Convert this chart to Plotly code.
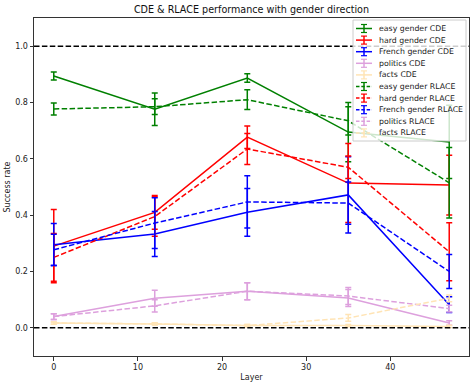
import plotly.graph_objects as go

layers = [0, 12, 23, 35, 47]

easy_cde = [0.894, 0.776, 0.887, 0.695, 0.660]
easy_cde_err = [0.014, 0.058, 0.015, 0.105, 0.130]
hard_cde = [0.290, 0.410, 0.677, 0.514, 0.507]
hard_cde_err = [0.130, 0.060, 0.040, 0.140, 0.106]
french_cde = [0.295, 0.333, 0.410, 0.472, 0.082]
french_cde_err = [0.075, 0.080, 0.085, 0.135, 0.028]
politics_cde = [0.040, 0.105, 0.130, 0.106, 0.017]
politics_cde_err = [0.010, 0.028, 0.030, 0.030, 0.008]
facts_cde = [0.017, 0.014, 0.008, 0.008, 0.005]
facts_cde_err = [0.004, 0.004, 0.004, 0.004, 0.004]

easy_rlace = [0.777, 0.785, 0.810, 0.735, 0.515]
easy_rlace_err = [0.021, 0.028, 0.035, 0.050, 0.125]
hard_rlace = [0.250, 0.395, 0.635, 0.570, 0.270]
hard_rlace_err = [0.085, 0.070, 0.055, 0.040, 0.103]
french_rlace = [0.277, 0.372, 0.447, 0.443, 0.200]
french_rlace_err = [0.055, 0.090, 0.093, 0.075, 0.060]
politics_rlace = [0.040, 0.078, 0.130, 0.113, 0.068]
politics_rlace_err = [0.010, 0.022, 0.030, 0.030, 0.012]
facts_rlace = [0.017, 0.014, 0.008, 0.035, 0.105]
facts_rlace_err = [0.004, 0.004, 0.004, 0.012, 0.012]

series = [
    ("easy gender CDE", easy_cde, easy_cde_err, "green", "solid"),
    ("hard gender CDE", hard_cde, hard_cde_err, "red", "solid"),
    ("French gender CDE", french_cde, french_cde_err, "blue", "solid"),
    ("politics CDE", politics_cde, politics_cde_err, "plum", "solid"),
    ("facts CDE", facts_cde, facts_cde_err, "moccasin", "solid"),
    ("easy gender RLACE", easy_rlace, easy_rlace_err, "green", "dash"),
    ("hard gender RLACE", hard_rlace, hard_rlace_err, "red", "dash"),
    ("French gender RLACE", french_rlace, french_rlace_err, "blue", "dash"),
    ("politics RLACE", politics_rlace, politics_rlace_err, "plum", "dash"),
    ("facts RLACE", facts_rlace, facts_rlace_err, "moccasin", "dash"),
]

W, H = 474, 386
L, R, T, B = 34, 5, 18, 30
PW, PH = W - L - R, H - T - B
MPL_DASH = "5.5px,2.4px"


def px(xp):
    return (xp - L) / PW


def py(yp):
    return (H - B - yp) / PH


fig = go.Figure()

for name, ys, errs, color, dash in series:
    fig.add_trace(go.Scatter(
        x=layers, y=ys, name=name, mode="lines", showlegend=False,
        line=dict(color=color, width=1.5, dash=MPL_DASH if dash == "dash" else "solid"),
        error_y=dict(type="data", array=errs, visible=True, color=color,
                     thickness=1.5, width=3),
    ))

fig.add_hline(y=1.0, line=dict(color="black", width=1.5, dash=MPL_DASH))
fig.add_hline(y=0.0, line=dict(color="black", width=1.5, dash=MPL_DASH))

# Matplotlib-style legend box drawn in paper coordinates
fig.add_shape(type="rect", xref="paper", yref="paper",
              x0=px(353), x1=px(466), y0=py(141), y1=py(20),
              fillcolor="rgba(255,255,255,0.8)",
              line=dict(color="#cccccc", width=1), layer="above")
for i, (name, ys, errs, color, dash) in enumerate(series):
    yc = 28.5 + 11.6 * i
    fig.add_shape(type="line", xref="paper", yref="paper",
                  x0=px(356), x1=px(372), y0=py(yc), y1=py(yc),
                  line=dict(color=color, width=1.5,
                            dash="3.5px,1.8px" if dash == "dash" else "solid"),
                  layer="above")
    fig.add_shape(type="line", xref="paper", yref="paper",
                  x0=px(364), x1=px(364), y0=py(yc - 4), y1=py(yc + 4),
                  line=dict(color=color, width=1.5), layer="above")
    for cy in (yc - 4, yc + 4):
        fig.add_shape(type="line", xref="paper", yref="paper",
                      x0=px(361), x1=px(367), y0=py(cy), y1=py(cy),
                      line=dict(color=color, width=1.2), layer="above")
    fig.add_annotation(text=name, xref="paper", yref="paper",
                       x=px(377), y=py(yc), xanchor="left", yanchor="middle",
                       showarrow=False,
                       font=dict(family="DejaVu Sans", size=7.8, color="#222"))

axis_common = dict(
    showline=True, linecolor="#333", linewidth=1, mirror=True,
    ticks="outside", ticklen=3.5, tickcolor="#333",
    showgrid=False, zeroline=False, automargin=False,
    tickfont=dict(family="DejaVu Sans", size=8, color="#222"),
)

fig.update_layout(
    width=W, height=H,
    margin=dict(l=L, r=R, t=T, b=B, autoexpand=False),
    paper_bgcolor="white", plot_bgcolor="white",
    title=dict(text="CDE & RLACE performance with gender direction",
               xref="paper", x=0.5, xanchor="center",
               yref="container", y=1 - 9.5 / H, yanchor="middle",
               font=dict(family="DejaVu Sans", size=9.6, color="#111")),
    xaxis=dict(range=[-2.35, 49.35], tickvals=[0, 10, 20, 30, 40],
               title=dict(text="Layer", standoff=3,
                          font=dict(family="DejaVu Sans", size=8, color="#222")),
               **axis_common),
    yaxis=dict(range=[-0.1, 1.1], tickvals=[0, 0.2, 0.4, 0.6, 0.8, 1.0],
               tickformat=".1f",
               title=dict(text="Success rate", standoff=3,
                          font=dict(family="DejaVu Sans", size=8, color="#222")),
               **axis_common),
    showlegend=False,
)

fig.write_html("out.html", config={"displayModeBar": False},
               post_script="document.body.style.margin='0';")
